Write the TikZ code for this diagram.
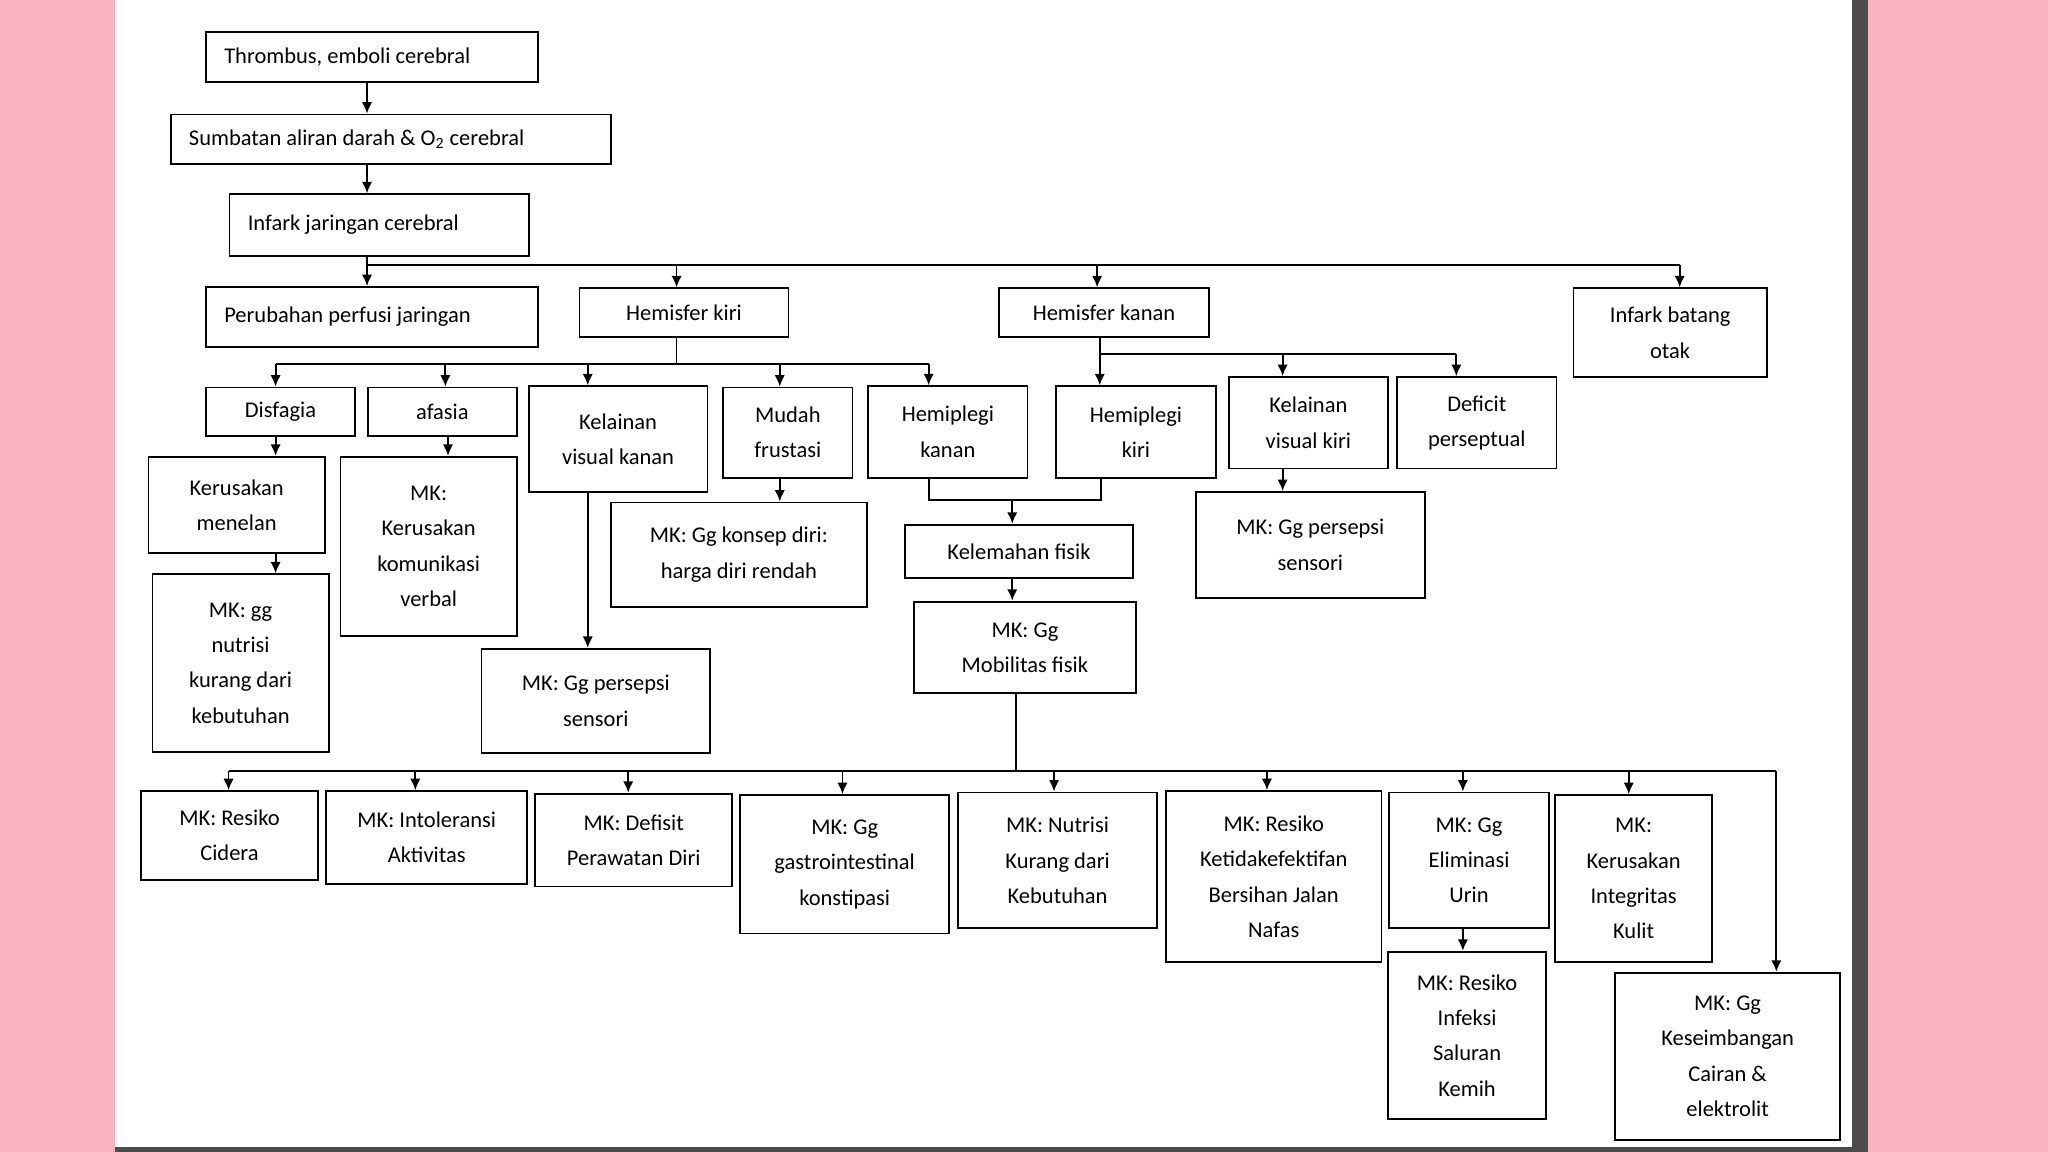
\documentclass[tikz,border=0pt]{standalone}
\usepackage{fontspec}
\setmainfont{Carlito}
\usetikzlibrary{arrows.meta}
\definecolor{pinkbg}{HTML}{F8B5BF}
\tikzset{
  box/.style={draw=black,line width=0.8pt,align=center,inner sep=0pt,font=\fontsize{9.8}{15.4}\selectfont},
  lbox/.style={box,text width=#1,align=flush left,inner xsep=0.28cm},
  ln/.style={line width=0.8pt},
  arr/.style={line width=0.8pt,-{Latex[length=5pt,width=4.5pt]}}
}
\newcommand\bx[6]{\pgfmathsetmacro\bw{(#4-#2)*0.02}\pgfmathsetmacro\bh{(#5-#3)*0.02}\node[box,minimum width=\bw cm,minimum height=\bh cm,anchor=north west] (#1) at (#2,#3) {#6};}
\newcommand\lbx[6]{\pgfmathsetmacro\bw{(#4-#2)*0.02-0.56}\pgfmathsetmacro\bh{(#5-#3)*0.02}\node[lbox=\bw cm,minimum height=\bh cm,anchor=north west] (#1) at (#2,#3) {#6};}
\begin{document}
\begin{tikzpicture}[x=0.02cm,y=-0.02cm]
\useasboundingbox (0,0) rectangle (1568,882);
\fill[pinkbg] (0,0) rectangle (1568,882);
\fill[white] (88,0) rectangle (1418,882);
\fill[black!70] (1418,0) rectangle (1430,882);
\fill[black!70] (88,878) rectangle (1418,882);
\lbx{a}{157}{24}{411}{62}{Thrombus, emboli cerebral}
\lbx{b}{130}{87}{467}{125}{Sumbatan aliran darah \& O\textsubscript{2} cerebral}
\lbx{c}{175}{148}{404}{195}{Infark jaringan cerebral}
\lbx{perf}{157}{219}{411}{265}{Perubahan perfusi jaringan}
\bx{hki}{443}{220}{603}{257}{Hemisfer kiri}
\bx{hka}{764}{220}{925}{257}{Hemisfer kanan}
\bx{ibo}{1204}{220}{1352}{288}{Infark batang\\otak}
\bx{dis}{157}{296}{271}{333}{Disfagia}
\bx{afa}{281}{296}{395}{333}{afasia}
\bx{kvk}{404}{295}{541}{376}{Kelainan\\visual kanan}
\bx{muf}{553}{296}{652}{365}{Mudah\\frustasi}
\bx{hpk}{664}{295}{786}{365}{Hemiplegi\\kanan}
\bx{hpi}{808}{295}{930}{365}{Hemiplegi\\kiri}
\bx{kvi}{940}{288}{1062}{358}{Kelainan\\visual kiri}
\bx{dep}{1069}{288}{1191}{358}{Deficit\\perseptual}
\bx{kme}{113}{349}{248}{423}{Kerusakan\\menelan}
\bx{kkv}{260}{349}{395}{486}{MK:\\Kerusakan\\komunikasi\\verbal}
\bx{ggn}{116}{439}{251}{575}{MK: gg\\nutrisi\\kurang dari\\kebutuhan}
\bx{kdr}{467}{384}{663}{464}{MK: Gg konsep diri:\\harga diri rendah}
\bx{gps}{368}{496}{543}{576}{MK: Gg persepsi\\sensori}
\bx{klf}{692}{401}{867}{442}{Kelemahan fisik}
\bx{mob}{699}{460}{869}{530}{MK: Gg\\Mobilitas fisik}
\bx{gps2}{915}{376}{1090}{457}{MK: Gg persepsi\\sensori}
\bx{m1}{107}{605}{243}{673}{MK: Resiko\\Cidera}
\bx{m2}{249}{605}{403}{676}{MK: Intoleransi\\Aktivitas}
\bx{m3}{409}{607}{560}{678}{MK: Defisit\\Perawatan Diri}
\bx{m4}{566}{608}{726}{714}{MK: Gg\\gastrointestinal\\konstipasi}
\bx{m5}{733}{606}{885}{710}{MK: Nutrisi\\Kurang dari\\Kebutuhan}
\bx{m6}{892}{605}{1057}{736}{MK: Resiko\\Ketidakefektifan\\Bersihan Jalan\\Nafas}
\bx{m7}{1063}{606}{1185}{710}{MK: Gg\\Eliminasi\\Urin}
\bx{m8}{1190}{608}{1310}{736}{MK:\\Kerusakan\\Integritas\\Kulit}
\bx{m9}{1062}{728}{1183}{856}{MK: Resiko\\Infeksi\\Saluran\\Kemih}
\bx{m10}{1236}{744}{1408}{872}{MK: Gg\\Keseimbangan\\Cairan \&\\elektrolit}
% top chain
\draw[arr] (281,0 |- a.south) -- (281,0 |- b.north);
\draw[arr] (281,0 |- b.south) -- (281,0 |- c.north);
\coordinate (j1) at (281,203);
\draw[ln] (281,0 |- c.south) -- (j1) -- (1286,203);
\draw[arr] (j1) -- (281,0 |- perf.north);
\draw[arr] (518,203) -- (518,0 |- hki.north);
\draw[arr] (840,203) -- (840,0 |- hka.north);
\draw[arr] (1286,203) -- (1286,0 |- ibo.north);
% hemisfer kiri
\coordinate (j2) at (518,279);
\draw[ln] (518,0 |- hki.south) -- (j2);
\draw[ln] (211,279) -- (711,279);
\draw[arr] (211,279) -- (211,0 |- dis.north);
\draw[arr] (341,279) -- (341,0 |- afa.north);
\draw[arr] (450,279) -- (450,0 |- kvk.north);
\draw[arr] (597,279) -- (597,0 |- muf.north);
\draw[arr] (711,279) -- (711,0 |- hpk.north);
% hemisfer kanan
\coordinate (j3) at (842,271);
\draw[ln] (842,0 |- hka.south) -- (j3) -- (1115,271);
\draw[arr] (j3) -- (842,0 |- hpi.north);
\draw[arr] (982,271) -- (982,0 |- kvi.north);
\draw[arr] (1115,271) -- (1115,0 |- dep.north);
% sub arrows
\draw[arr] (211,0 |- dis.south) -- (211,0 |- kme.north);
\draw[arr] (343,0 |- afa.south) -- (343,0 |- kkv.north);
\draw[arr] (211,0 |- kme.south) -- (211,0 |- ggn.north);
\draw[arr] (597,0 |- muf.south) -- (597,0 |- kdr.north);
\draw[arr] (450,0 |- kvk.south) -- (450,0 |- gps.north);
\draw[arr] (982,0 |- kvi.south) -- (982,0 |- gps2.north);
\draw[ln] (711,0 |- hpk.south) -- (711,383) -- (843,383) -- (843,0 |- hpi.south);
\draw[arr] (775,383) -- (775,0 |- klf.north);
\draw[arr] (775,0 |- klf.south) -- (775,0 |- mob.north);
% bottom bus
\coordinate (j4) at (778,590);
\draw[ln] (778,0 |- mob.south) -- (j4);
\draw[ln] (175,590) -- (1360,590);
\draw[arr] (175,590) -- (175,0 |- m1.north);
\draw[arr] (318,590) -- (318,0 |- m2.north);
\draw[arr] (481,590) -- (481,0 |- m3.north);
\draw[arr] (645,590) -- (645,0 |- m4.north);
\draw[arr] (807,590) -- (807,0 |- m5.north);
\draw[arr] (970,590) -- (970,0 |- m6.north);
\draw[arr] (1120,590) -- (1120,0 |- m7.north);
\draw[arr] (1247,590) -- (1247,0 |- m8.north);
\draw[arr] (1360,590) -- (1360,0 |- m10.north);
\draw[arr] (1120,0 |- m7.south) -- (1120,0 |- m9.north);
\end{tikzpicture}
\end{document}
